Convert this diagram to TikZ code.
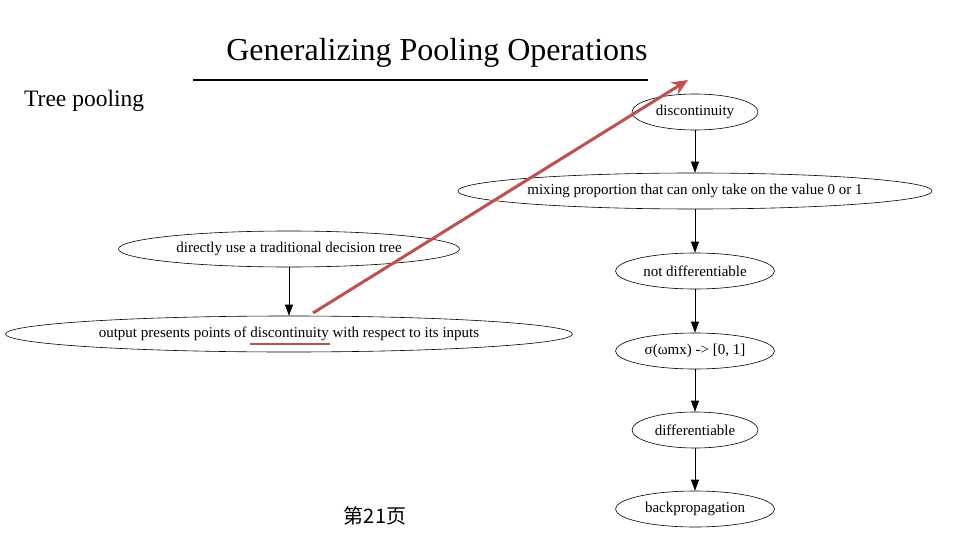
\documentclass[tikz,border=0pt]{standalone}
\usepackage{fontspec}
\setmainfont{Liberation Serif}
\newfontfamily\cjk{Noto Sans CJK SC}
\usetikzlibrary{shapes.geometric,arrows.meta}
\definecolor{arrowred}{RGB}{192,80,77}
\tikzset{
  oval/.style={ellipse,draw,semithick,inner sep=0pt,minimum height=36pt,font=\fontsize{15}{17}\selectfont},
  flow/.style={-{Triangle[length=11pt,width=8pt]},semithick}
}
\begin{document}
\begin{tikzpicture}[x=1pt,y=-1pt]
  \useasboundingbox (0,0) rectangle (960,540);

  % Title and headings
  \node (title) at (437,53) {\fontsize{32}{36}\selectfont Generalizing Pooling Operations};
  \draw[line width=2.5pt] (193,80) -- (648,80);
  \node[anchor=west,inner sep=0pt] (sub) at (24,101) {\fontsize{23.5}{27}\selectfont Tree pooling};
  \node (page) at (375,516) {\cjk\fontsize{20}{24}\selectfont 第21页};

  % Left chain
  \node[oval,minimum width=341pt] (direct) at (289,249) {directly use a traditional decision tree};
  \node[oval,minimum width=567pt] (output) at (289,334) {output presents points of discontinuity with respect to its inputs};
  \draw[flow] (direct) -- (output);

  % Right chain
  \node[oval,minimum width=126pt] (disc) at (695,112) {discontinuity};
  \node[oval,minimum width=468pt] (mix) at (695,191) {mixing proportion that can only take on the value 0 or 1};
  \node[oval,minimum width=159pt] (notdiff) at (695,271) {not differentiable};
  \node[oval,minimum width=159pt] (sigma) at (695,351) {σ(ωmx) -> [0, 1]};
  \node[oval,minimum width=126pt] (diff) at (695,430) {differentiable};
  \node[oval,minimum width=159pt] (backprop) at (695,509) {backpropagation};
  \draw[flow] (disc) -- (mix);
  \draw[flow] (mix) -- (notdiff);
  \draw[flow] (notdiff) -- (sigma);
  \draw[flow] (sigma) -- (diff);
  \draw[flow] (diff) -- (backprop);

  % Red annotation
  \coordinate (ustart) at (250,344);
  \coordinate (uend) at (330,344);
  \coordinate (atip) at (688,80);
  \draw[arrowred,line width=2.5pt] (ustart) -- (uend);
  \draw[arrowred,line width=3pt,-{Stealth[length=16pt,width=14pt]}] (313,313) -- (atip);
\end{tikzpicture}
\end{document}
